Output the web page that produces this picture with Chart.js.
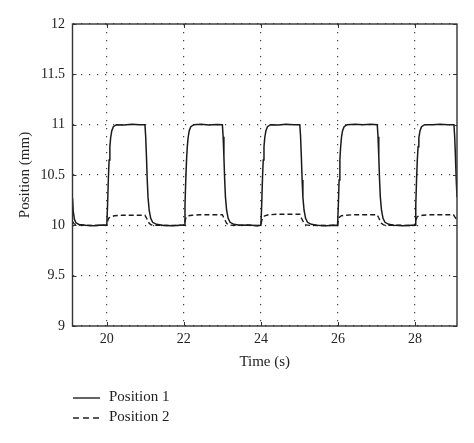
<!DOCTYPE html>
<html>
<head>
<meta charset="utf-8">
<script src="https://cdn.jsdelivr.net/npm/chart.js@4.4.1/dist/chart.umd.min.js"></script>
<style>
    body { margin: 0; background: #fff; }
    #wrap { position: relative; width: 474px; height: 443px; }
    #legend { position: absolute; left: 73px; top: 386px; font: 15px "Liberation Serif", "DejaVu Serif", serif; color: #222; }
    #legend div { height: 20px; line-height: 20px; white-space: nowrap; }
    #legend svg { vertical-align: middle; margin-right: 9px; }
</style>
</head>
<body>
<div id="wrap">
    <canvas id="chart" width="474" height="443"></canvas>
    <div id="legend">
        <div><svg width="27" height="4"><line x1="0" y1="2" x2="27" y2="2" stroke="#222" stroke-width="1.4"/></svg>Position 1</div>
        <div><svg width="27" height="4"><line x1="0" y1="2" x2="27" y2="2" stroke="#222" stroke-width="1.4" stroke-dasharray="6 4"/></svg>Position 2</div>
    </div>
</div>
<script>
// Position 1 (solid)
var p1Time = [19.11, 19.13, 19.16, 19.20, 19.28, 19.45, 19.65, 19.85,
    20.00, 20.02, 20.04, 20.06, 20.08, 20.10, 20.13, 20.17, 20.25, 20.45, 20.65, 20.85, 20.99,
    21.01, 21.03, 21.05, 21.07, 21.10, 21.14, 21.19, 21.29, 21.45, 21.70, 21.90,
    22.01, 22.03, 22.05, 22.07, 22.09, 22.11, 22.14, 22.18, 22.26, 22.45, 22.65, 22.85, 23.00,
    23.02, 23.04, 23.06, 23.08, 23.11, 23.15, 23.20, 23.30, 23.45, 23.70, 23.90,
    24.00, 24.02, 24.04, 24.06, 24.08, 24.10, 24.13, 24.17, 24.25, 24.45, 24.65, 24.85, 25.01,
    25.03, 25.05, 25.07, 25.09, 25.12, 25.16, 25.21, 25.31, 25.45, 25.70, 25.90,
    25.99, 26.01, 26.03, 26.05, 26.07, 26.09, 26.12, 26.16, 26.24, 26.45, 26.65, 26.85, 27.02,
    27.04, 27.06, 27.08, 27.10, 27.13, 27.17, 27.22, 27.32, 27.45, 27.70, 27.90,
    28.00, 28.02, 28.04, 28.06, 28.08, 28.10, 28.13, 28.17, 28.25, 28.45, 28.65, 28.85, 29.01,
    29.03, 29.05, 29.07, 29.09];
var p1Pos = [10.27, 10.14, 10.06, 10.025, 10.008, 10.0, 9.997, 10.003,
    10.0, 10.2, 10.45, 10.65, 10.78, 10.87, 10.94, 10.98, 11.0, 10.996, 11.004, 11.0, 11.0,
    10.88, 10.68, 10.45, 10.28, 10.15, 10.07, 10.03, 10.01, 10.0, 9.996, 10.002,
    10.0, 10.2, 10.45, 10.65, 10.78, 10.87, 10.94, 10.98, 11.0, 11.004, 10.997, 11.002, 11.0,
    10.88, 10.68, 10.45, 10.28, 10.15, 10.07, 10.03, 10.01, 10.0, 10.003, 9.997,
    10.0, 10.2, 10.45, 10.65, 10.78, 10.87, 10.94, 10.98, 11.0, 10.997, 11.003, 10.998, 11.0,
    10.88, 10.68, 10.45, 10.28, 10.15, 10.07, 10.03, 10.01, 10.0, 9.997, 10.002,
    10.0, 10.2, 10.45, 10.65, 10.78, 10.87, 10.94, 10.98, 11.0, 11.003, 10.998, 11.004, 11.0,
    10.88, 10.68, 10.45, 10.28, 10.15, 10.07, 10.03, 10.01, 10.0, 9.996, 10.002,
    10.0, 10.2, 10.45, 10.65, 10.78, 10.87, 10.94, 10.98, 11.0, 10.998, 11.003, 11.0, 11.0,
    10.88, 10.68, 10.45, 10.28];

// Position 2 (dashed)
var p2Time = [19.11, 19.15, 19.22, 19.45, 19.70, 19.90,
    20.00, 20.02, 20.05, 20.10, 20.20, 20.40, 20.70, 20.99,
    21.02, 21.06, 21.10, 21.15, 21.25, 21.60, 21.90,
    22.01, 22.03, 22.06, 22.11, 22.21, 22.40, 22.70, 23.00,
    23.03, 23.07, 23.11, 23.16, 23.26, 23.60, 23.90,
    24.00, 24.02, 24.05, 24.10, 24.20, 24.40, 24.70, 25.01,
    25.04, 25.08, 25.12, 25.17, 25.27, 25.60, 25.90,
    25.99, 26.01, 26.04, 26.09, 26.19, 26.40, 26.70, 27.02,
    27.05, 27.09, 27.13, 27.18, 27.28, 27.60, 27.90,
    28.00, 28.02, 28.05, 28.10, 28.20, 28.40, 28.70, 29.00,
    29.04, 29.09];
var p2Pos = [10.04, 10.015, 10.003, 10.0, 9.998, 10.001,
    10.0, 10.04, 10.07, 10.085, 10.095, 10.1, 10.1, 10.1,
    10.08, 10.05, 10.02, 10.005, 10.0, 9.998, 10.001,
    10.0, 10.045, 10.08, 10.095, 10.1, 10.105, 10.105, 10.105,
    10.08, 10.05, 10.02, 10.005, 10.0, 10.002, 9.998,
    10.0, 10.045, 10.08, 10.095, 10.105, 10.11, 10.11, 10.11,
    10.08, 10.05, 10.02, 10.005, 10.0, 9.998, 10.001,
    10.0, 10.045, 10.08, 10.095, 10.1, 10.105, 10.105, 10.105,
    10.08, 10.05, 10.02, 10.005, 10.0, 10.001, 9.998,
    10.0, 10.045, 10.08, 10.095, 10.1, 10.105, 10.105, 10.105,
    10.08, 10.05];

var xMin = 19.11, xMax = 29.09;
var yMin = 9, yMax = 12;

function toPoints(t, v) {
    var pts = [];
    for (var i = 0; i < t.length; i++) pts.push({ x: t[i], y: v[i] });
    return pts;
}

var serif = '"Liberation Serif", "DejaVu Serif", serif';

// Box around the plot with small inward ticks, matlab style
var framePlugin = {
    id: 'frame',
    afterDraw: function(chart) {
        var ctx = chart.ctx, a = chart.chartArea;
        var xs = chart.scales.x, ys = chart.scales.y;
        ctx.save();
        ctx.strokeStyle = '#333';
        ctx.lineWidth = 1.4;
        ctx.strokeRect(a.left, a.top, a.right - a.left, a.bottom - a.top);
        ctx.lineWidth = 1;
        ctx.beginPath();
        xs.ticks.forEach(function(t) {
            var px = Math.round(xs.getPixelForValue(t.value)) + 0.5;
            ctx.moveTo(px, a.bottom); ctx.lineTo(px, a.bottom - 4);
            ctx.moveTo(px, a.top); ctx.lineTo(px, a.top + 4);
        });
        ys.ticks.forEach(function(t) {
            var py = Math.round(ys.getPixelForValue(t.value)) + 0.5;
            ctx.moveTo(a.left, py); ctx.lineTo(a.left + 4, py);
            ctx.moveTo(a.right, py); ctx.lineTo(a.right - 4, py);
        });
        ctx.stroke();
        ctx.restore();
    }
};

new Chart(document.getElementById('chart'), {
    type: 'line',
    data: {
        datasets: [{
            label: 'Position 1',
            data: toPoints(p1Time, p1Pos),
            borderColor: '#1a1a1a',
            borderWidth: 1.5,
            pointRadius: 0
        }, {
            label: 'Position 2',
            data: toPoints(p2Time, p2Pos),
            borderColor: '#1a1a1a',
            borderWidth: 1.4,
            borderDash: [5, 3],
            pointRadius: 0
        }]
    },
    options: {
        responsive: false,
        animation: false,
        layout: { padding: { top: 24, right: 17, left: 0, bottom: 68 } },
        plugins: {
            legend: { display: false },
            tooltip: { enabled: false }
        },
        scales: {
            x: {
                type: 'linear',
                min: xMin,
                max: xMax,
                afterFit: function(scale) { scale.height = 49; },
                ticks: {
                    stepSize: 2,
                    includeBounds: false,
                    padding: 5,
                    maxRotation: 0,
                    color: '#222',
                    font: { family: serif, size: 14 },
                    callback: function(v) { return String(v); }
                },
                grid: { color: '#444', lineWidth: 1.2, drawTicks: false },
                border: { display: false, dash: [1.2, 6.8] },
                title: {
                    display: true,
                    text: 'Time (s)',
                    color: '#222',
                    font: { family: serif, size: 15 },
                    padding: { top: 0, bottom: 4 }
                }
            },
            y: {
                min: yMin,
                max: yMax,
                afterFit: function(scale) { scale.width = 72.5; },
                ticks: {
                    stepSize: 0.5,
                    padding: 7.5,
                    color: '#222',
                    font: { family: serif, size: 14 },
                    callback: function(v) { return String(v); }
                },
                grid: { color: '#444', lineWidth: 1.2, drawTicks: false },
                border: { display: false, dash: [1.2, 6.8] },
                title: {
                    display: true,
                    text: 'Position (mm)',
                    color: '#222',
                    font: { family: serif, size: 15 },
                    padding: { top: 16.5, bottom: 0 }
                }
            }
        }
    },
    plugins: [framePlugin]
});
</script>
</body>
</html>
